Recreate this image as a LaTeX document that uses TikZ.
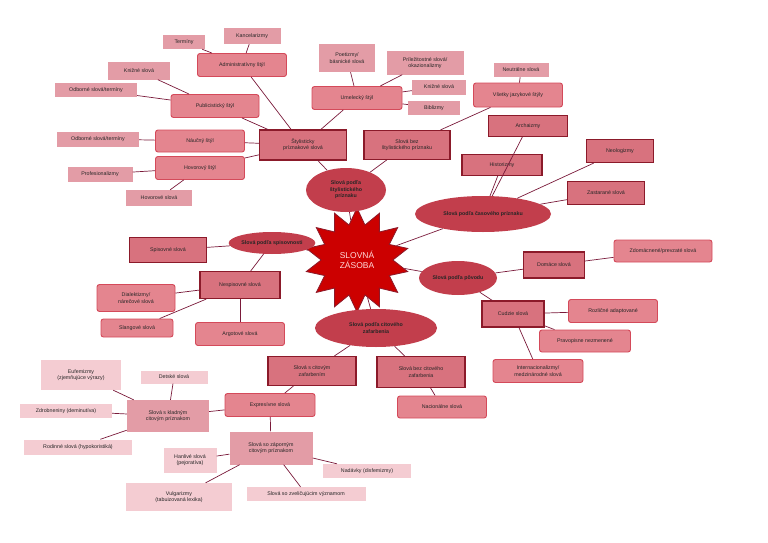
\documentclass[tikz,border=0pt]{standalone}
\usepackage{fontspec}
\setmainfont{Liberation Sans}
\usetikzlibrary{shapes.geometric}
\definecolor{ln}{HTML}{7A1A3A}
\definecolor{dkf}{HTML}{D8727E}
\definecolor{dkd}{HTML}{8B1A2A}
\definecolor{rdf}{HTML}{E4858F}
\definecolor{rdd}{HTML}{D44A5A}
\definecolor{ltf}{HTML}{E39CA6}
\definecolor{vlf}{HTML}{F4CCD2}
\definecolor{elf}{HTML}{C23E4C}
\begin{document}
\begin{tikzpicture}[x=1pt,y=-1pt,
  every node/.style={font=\fontsize{5.3}{6.4}\selectfont, align=center, inner sep=1pt, text=black!85},
  dk/.style={rectangle, fill=dkf, draw=dkd, line width=1.1pt},
  rd/.style={rectangle, rounded corners=2.5pt, fill=rdf, draw=rdd, line width=0.9pt},
  lt/.style={rectangle, fill=ltf},
  vl/.style={rectangle, fill=vlf},
  el/.style={ellipse, fill=elf, inner sep=0pt, font=\bfseries\fontsize{5.3}{6.4}\selectfont},
  sz/.style args={#1x#2}{minimum width=#1pt, minimum height=#2pt},
  cn/.style={draw=ln, line width=0.7pt}]
\useasboundingbox (0,0) rectangle (768,543);
% star
\node[star, star points=14, star point ratio=1.45, minimum size=104pt, fill=red!80!black, draw=dkd, line width=0.8pt, inner sep=0pt, font=\fontsize{8.5}{10}\selectfont, text=pink!60] (star) at (357,260) {SLOVNÁ\\ZÁSOBA};
% ellipses
\node[el, sz=80x44] (eS) at (346,190) {Slová podľa\\štylistického\\príznaku};
\node[el, sz=136x36] (eC) at (483,214) {Slová podľa časového príznaku};
\node[el, sz=82x22] (eP) at (272,243) {Slová podľa spisovnosti};
\node[el, sz=78x34] (eO) at (458,278) {Slová podľa pôvodu};
\node[el, sz=122x38] (eZ) at (376,328) {Slová podľa citového\\zafarbenia};
% stylistic
\node[dk, sz=87x30] (styl) at (303,145) {Štylisticky\\príznakové slová};
\node[dk, sz=86x29] (bez) at (407,145) {Slová bez\\štylistického príznaku};
\node[rd, sz=89x23] (adm) at (242,65) {Administratívny štýl};
\node[lt, sz=42x14] (ter) at (184,42) {Termíny};
\node[lt, sz=57x16] (kan) at (252,36) {Kancelarizmy};
\node[rd, sz=88x23] (pub) at (215,106) {Publicistický štýl};
\node[lt, sz=62x17] (kn1) at (139,71) {Knižné slová};
\node[lt, sz=82x14] (od1) at (96,90) {Odborné slová/termíny};
\node[rd, sz=89x22] (nau) at (200,141) {Náučný štýl};
\node[lt, sz=82x15] (od2) at (98,139) {Odborné slová/termíny};
\node[rd, sz=89x23] (hov) at (200,168) {Hovorový štýl};
\node[lt, sz=65x15] (pro) at (100,174) {Profesionalizmy};
\node[lt, sz=66x16] (hs) at (159,198) {Hovorové slová};
\node[rd, sz=90x23] (ume) at (357,98) {Umelecký štýl};
\node[lt, sz=56x28] (poe) at (347,58) {Poetizmy/\\básnické slová};
\node[lt, sz=77x23] (pri) at (425,63) {Príležitostné slová/\\okazionalizmy};
\node[lt, sz=54x15] (kn2) at (439,87) {Knižné slová};
\node[lt, sz=52x14] (bib) at (434,108) {Biblizmy};
\node[rd, sz=89x24] (vse) at (518,95) {Všetky jazykové štýly};
\node[lt, sz=55x14] (neu) at (521,70) {Neutrálne slová};
% time
\node[dk, sz=79x21] (arc) at (528,126) {Archaizmy};
\node[dk, sz=80x21] (his) at (502,165) {Historizmy};
\node[dk, sz=67x23] (neo) at (620,151) {Neologizmy};
\node[dk, sz=77x23] (zas) at (606,193) {Zastarané slová};
% spisovnost
\node[dk, sz=77x25] (spi) at (168,250) {Spisovné slová};
\node[dk, sz=80x27] (nes) at (240,285) {Nespisovné slová};
\node[rd, sz=78x27] (dia) at (136,298) {Dialektizmy/\\nárečové slová};
\node[rd, sz=72x18] (sla) at (137,328) {Slangové slová};
\node[rd, sz=89x23] (arg) at (240,334) {Argotové slová};
% povod
\node[dk, sz=61x26] (dom) at (554,265) {Domáce slová};
\node[rd, sz=98x22] (zdo) at (663,251) {Zdomácnené/prevzaté slová};
\node[dk, sz=62x26] (cud) at (513,314) {Cudzie slová};
\node[rd, sz=89x23] (roz) at (613,311) {Rozličné adaptované};
\node[rd, sz=91x22] (pra) at (585,341) {Pravopisne nezmenené};
\node[rd, sz=90x23] (int) at (538,371) {Internacionalizmy/\\medzinárodné slová};
% citove
\node[dk, sz=88x29] (scit) at (312,371) {Slová s citovým\\zafarbením};
\node[dk, sz=88x31] (bcit) at (421,372) {Slová bez citového\\zafarbenia};
\node[rd, sz=89x22] (nac) at (442,407) {Nacionálne slová};
\node[rd, sz=90x23] (exp) at (270,405) {Expresívne slová};
\node[lt, sz=82x32] (kla) at (168,416) {Slová s kladným\\citovým príznakom};
\node[vl, sz=80x30] (euf) at (81,375) {Eufemizmy\\(zjemňujúce výrazy)};
\node[vl, sz=67x13] (det) at (174,377) {Detské slová};
\node[vl, sz=92x14] (zdr) at (66,411) {Zdrobneniny (deminutíva)};
\node[vl, sz=108x15] (rod) at (78,447) {Rodinné slová (hypokoristiká)};
\node[lt, sz=83x33] (zap) at (271,448) {Slová so záporným\\citovým príznakom};
\node[vl, sz=53x25] (han) at (190,460) {Hanlivé slová\\(pejoratíva)};
\node[vl, sz=88x14] (nad) at (367,471) {Nadávky (disfemizmy)};
\node[vl, sz=106x28] (vul) at (179,497) {Vulgarizmy\\(tabuizovaná lexika)};
\node[vl, sz=119x14] (zve) at (306,494) {Slová so zveličujúcim významom};
% connectors
\begin{scope}[on background layer/.try]
\end{scope}
\draw[cn] (star) -- (eS);
\draw[cn] (star) -- (eC);
\draw[cn] (star) -- (eP);
\draw[cn] (star) -- (eO);
\draw[cn] (star) -- (eZ);
\draw[cn] (eS) -- (styl);
\draw[cn] (eS) -- (bez);
\draw[cn] (styl) -- (adm);
\draw[cn] (styl) -- (pub);
\draw[cn] (styl) -- (nau);
\draw[cn] (styl) -- (hov);
\draw[cn] (styl) -- (ume);
\draw[cn] (adm) -- (ter);
\draw[cn] (adm) -- (kan);
\draw[cn] (pub) -- (kn1);
\draw[cn] (pub) -- (od1);
\draw[cn] (nau) -- (od2);
\draw[cn] (hov) -- (pro);
\draw[cn] (hov) -- (hs);
\draw[cn] (ume) -- (poe);
\draw[cn] (ume) -- (pri);
\draw[cn] (ume) -- (kn2);
\draw[cn] (ume) -- (bib);
\draw[cn] (bez) -- (vse);
\draw[cn] (vse) -- (neu);
\draw[cn] (eC) -- (arc);
\draw[cn] (eC) -- (his);
\draw[cn] (eC) -- (neo);
\draw[cn] (eC) -- (zas);
\draw[cn] (eP) -- (spi);
\draw[cn] (eP) -- (nes);
\draw[cn] (nes) -- (dia);
\draw[cn] (nes) -- (sla);
\draw[cn] (nes) -- (arg);
\draw[cn] (eO) -- (dom);
\draw[cn] (dom) -- (zdo);
\draw[cn] (eO) -- (cud);
\draw[cn] (cud) -- (roz);
\draw[cn] (cud) -- (pra);
\draw[cn] (cud) -- (int);
\draw[cn] (eZ) -- (scit);
\draw[cn] (eZ) -- (bcit);
\draw[cn] (bcit) -- (nac);
\draw[cn] (scit) -- (exp);
\draw[cn] (exp) -- (kla);
\draw[cn] (exp) -- (zap);
\draw[cn] (kla) -- (euf);
\draw[cn] (kla) -- (det);
\draw[cn] (kla) -- (zdr);
\draw[cn] (kla) -- (rod);
\draw[cn] (zap) -- (han);
\draw[cn] (zap) -- (nad);
\draw[cn] (zap) -- (vul);
\draw[cn] (zap) -- (zve);
\end{tikzpicture}
\end{document}
